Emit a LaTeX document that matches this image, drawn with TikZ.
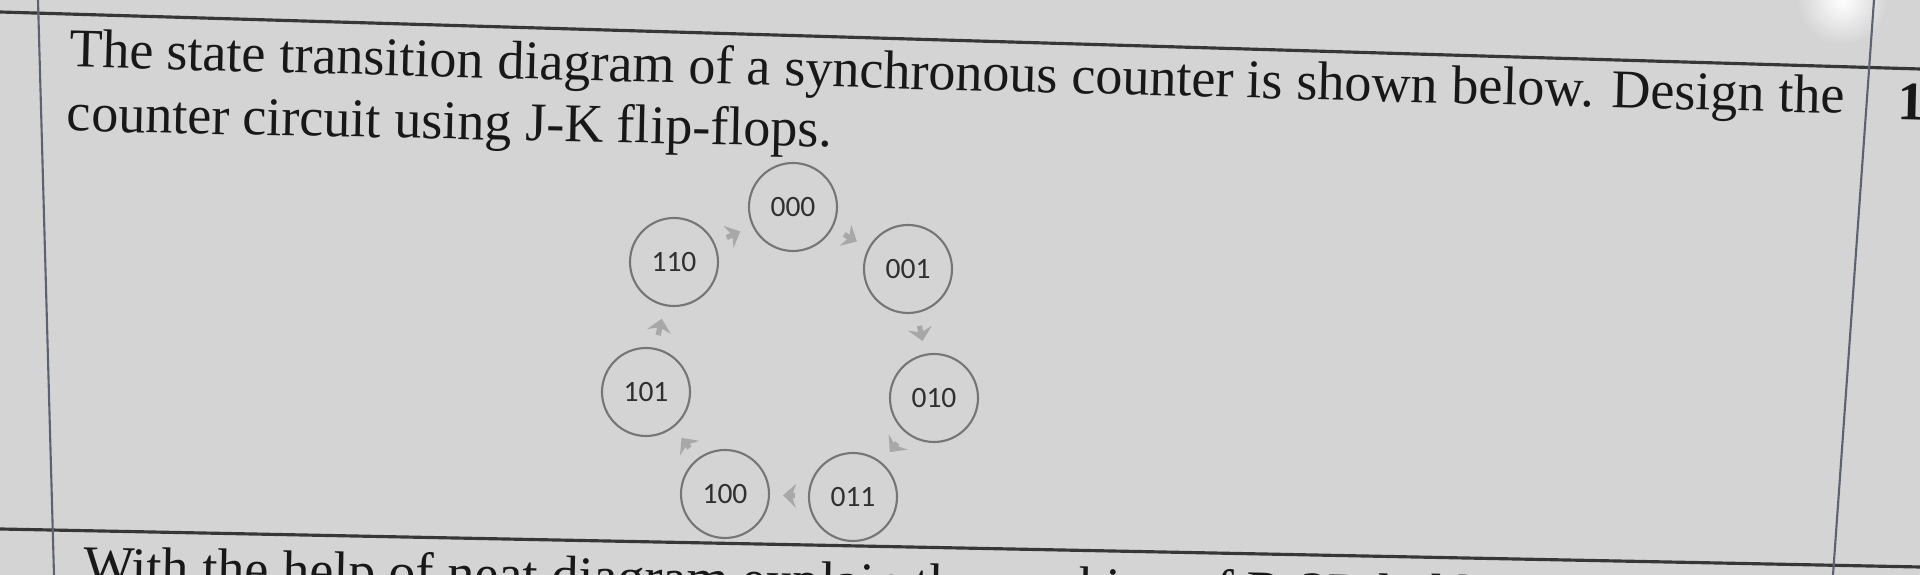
\documentclass[tikz,border=0pt]{standalone}
\usepackage{fontspec}
\usepackage{graphicx}
\setmainfont{Liberation Serif}
\newfontfamily\lblfont{Carlito}
\usetikzlibrary{arrows.meta}
\definecolor{bg}{RGB}{212,212,212}
\definecolor{ink}{RGB}{24,24,24}
\definecolor{rulec}{RGB}{55,55,55}
\definecolor{vrulec}{RGB}{92,98,112}
\definecolor{circc}{RGB}{118,118,118}
\definecolor{lblc}{RGB}{48,48,48}
\definecolor{arrc}{RGB}{168,168,168}
\newlength\LineOneW
\newsavebox\LineOneBox
\begin{document}
\sbox\LineOneBox{\fontsize{15.5pt}{17pt}\selectfont The state transition diagram of a synchronous counter is shown below. Design the}%
\setlength\LineOneW{\wd\LineOneBox}%
\pgfmathsetmacro\sx{177.6/(\LineOneW/1mm)}%
\begin{tikzpicture}[x=0.1mm,y=-0.1mm,
  txt/.style={inner sep=0pt, outer sep=0pt, text=ink, font=\fontsize{15.5pt}{17pt}\selectfont},
  state/.style={circle, draw=circc, line width=0.6pt, minimum size=8.8mm, inner sep=0pt, text=lblc, font=\lblfont\fontsize{8.4pt}{9pt}\selectfont},
  trans/.style={draw=arrc, line width=1.5pt, -{Stealth[length=1.3mm,width=2.4mm]}, shorten <=1.3mm, shorten >=1.3mm},
  hrule/.style={draw=rulec, line width=0.9pt},
  vrule/.style={draw=vrulec, line width=0.6pt}]
\clip (0,0) rectangle (1920,575);
\fill[bg] (0,0) rectangle (1920,575);
\shade[inner color=white, outer color=bg] (1842,0) circle (45);
% table rules
\coordinate (tl) at (0,12);
\coordinate (tr) at (1920,69);
\coordinate (bl) at (0,529);
\coordinate (br) at (1920,567);
\coordinate (lt) at (38,0);
\coordinate (lb) at (54,575);
\coordinate (rt) at (1874,0);
\coordinate (rb) at (1833,575);
\draw[hrule] (tl) -- (tr);
\draw[hrule] (bl) -- (br);
\draw[vrule] (lt) -- (lb);
\draw[vrule] (rt) -- (rb);
% texts
\node[txt, anchor=base west, rotate=-1.5] (l1) at (69,67) {\scalebox{\sx}[1]{The state transition diagram of a synchronous counter is shown below. Design the}};
\node[txt, anchor=base west, rotate=-1.2] (l2) at (67,131) {\scalebox{\sx}[1]{counter circuit using J-K flip-flops.}};
\node[txt, anchor=base west, rotate=-1.5] (mk) at (1897,120) {\bfseries 1};
\node[txt, anchor=base west, rotate=-1.2] (l3) at (83,584) {\scalebox{\sx}[1]{With the help of neat diagram explain the working of R-2R ladder D/A}};
% states
\node[state] (s000) at (793,207) {000};
\node[state] (s001) at (908,269) {001};
\node[state] (s010) at (934,398) {010};
\node[state] (s011) at (853,497) {011};
\node[state] (s100) at (725,494) {100};
\node[state] (s101) at (646,392) {101};
\node[state] (s110) at (674,262) {110};
% transitions
\draw[trans] (s000) -- (s001);
\draw[trans] (s001) -- (s010);
\draw[trans] (s010) -- (s011);
\draw[trans] (s011) -- (s100);
\draw[trans] (s100) -- (s101);
\draw[trans] (s101) -- (s110);
\draw[trans] (s110) -- (s000);
\end{tikzpicture}
\end{document}
